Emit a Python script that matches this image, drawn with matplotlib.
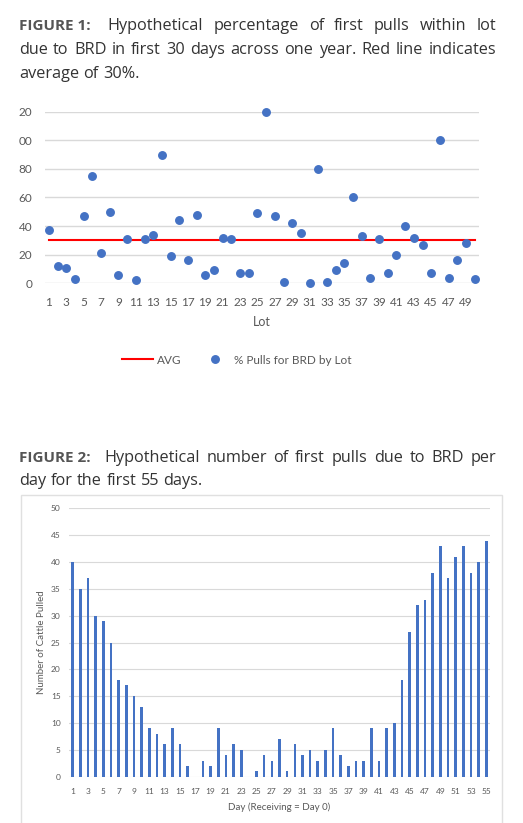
import matplotlib
matplotlib.use("Agg")
import matplotlib.pyplot as plt
from matplotlib.lines import Line2D
from matplotlib.patches import Rectangle

# Figure 1 data: % of first pulls due to BRD per lot
lots = list(range(1, 51))
pct_pulls = [37, 12, 11, 3, 47, 75, 21, 50, 6, 31,
             2, 31, 34, 90, 19, 44, 16, 48, 6, 9,
             32, 31, 7, 7, 49, 120, 47, 1, 42, 35,
             0, 80, 1, 9, 14, 60, 33, 4, 31, 7,
             20, 40, 32, 27, 7, 100, 4, 16, 28, 3]
avg_pct = 30
# tick labels as they show in the (clipped) original
pct_ticks = [0, 20, 40, 60, 80, 100, 120]
pct_tick_labels = ["0", "20", "40", "60", "80", "00", "20"]

# Figure 2 data: first pulls per day
days = list(range(1, 56))
cattle_pulled = [40, 35, 37, 30, 29, 25, 18, 17, 15, 13,
                 9, 8, 6, 9, 6, 2, 0, 3, 2, 9,
                 4, 6, 5, 0, 1, 4, 3, 7, 1, 6,
                 4, 5, 3, 5, 9, 4, 2, 3, 3, 9,
                 3, 9, 10, 18, 27, 32, 33, 38, 43, 37,
                 41, 43, 38, 40, 44]

W, H = 523, 823
BLUE = "#4472C4"
GRID = "#D9D9D9"
TICK = "#595959"
CAP_FONT = "Open Sans"
CHART_FONT = "Lato"

fig = plt.figure(figsize=(W / 100, H / 100), dpi=100)


def px_axes(left, top, right, bottom):
    return fig.add_axes([left / W, 1 - bottom / H, (right - left) / W, (bottom - top) / H])


def caption_line(tokens, baseline, x0, x1=None):
    # tokens: list of (word, bold); justified between x0 and x1 when x1 is given
    r = fig.canvas.get_renderer()
    texts = []
    for word, bold in tokens:
        t = fig.text(0, 1 - baseline / H, word, family=CAP_FONT,
                     fontsize=11 if bold else 11.7,
                     fontweight="bold" if bold else "normal",
                     color="#555555" if bold else "#333333", va="baseline")
        texts.append(t)
    widths = [t.get_window_extent(r).width for t in texts]
    # the bold label is followed by a double space
    extra = [7 if bold else 0 for _, bold in tokens]
    if x1 is None:
        gap = 4.5
    else:
        gap = (x1 - x0 - sum(widths) - sum(extra[:-1])) / (len(texts) - 1)
    x = x0
    for t, w, e in zip(texts, widths, extra):
        t.set_x(x / W)
        x += w + gap + e


def words(s):
    return [(w, False) for w in s.split()]


# ---- captions ----
caption_line([("FIGURE 1:", True)] + words("Hypothetical percentage of first pulls within lot"), 30, 19, 496)
caption_line(words("due to BRD in first 30 days across one year. Red line indicates"), 54, 19, 496)
caption_line(words("average of 30%."), 77.5, 19)

caption_line([("FIGURE 2:", True)] + words("Hypothetical number of first pulls due to BRD per"), 461.5, 19, 496)
caption_line(words("day for the first 55 days."), 485, 19)

# ---- figure 1: scatter ----
ax1 = px_axes(44.6, 111.7, 479, 283.3)
ax1.plot(lots, pct_pulls, "o", color=BLUE, markersize=5.4, clip_on=False, zorder=3)
ax1.axhline(avg_pct, xmin=0.5 / 50, xmax=49.5 / 50, color="#FF0000", lw=1.5, zorder=2)
ax1.set_xlim(0.5, 50.5)
ax1.set_ylim(0, 120)
ax1.set_yticks(pct_ticks)
ax1.set_yticklabels(pct_tick_labels)
ax1.set_xticks(lots[::2])
ax1.grid(axis="y", color=GRID, lw=1)
ax1.set_axisbelow(True)
for s in ax1.spines.values():
    s.set_visible(False)
ax1.tick_params(length=0, labelsize=8.5, labelcolor=TICK)
ax1.tick_params(axis="y", pad=9)
ax1.tick_params(axis="x", pad=10)
for lab in ax1.get_xticklabels() + ax1.get_yticklabels():
    lab.set_family(CHART_FONT)
ax1.set_xlabel("Lot", family=CHART_FONT, fontsize=9, color=TICK, va="center")
ax1.xaxis.set_label_coords(0.5, (283.3 - 322) / (283.3 - 111.7))

handles = [Line2D([], [], color="#FF0000", lw=1.5),
           Line2D([], [], ls="none", marker="o", color=BLUE, markersize=5.4)]
fig.legend(handles, ["AVG", "% Pulls for BRD by Lot"], loc="center",
           bbox_to_anchor=(237 / W, 1 - 360 / H), ncol=2, frameon=False,
           prop={"family": CHART_FONT, "size": 8.5}, labelcolor=TICK,
           handlelength=2.6, handletextpad=0.3, columnspacing=1.6)

# ---- figure 2: bars ----
fig.add_artist(Rectangle((21 / W, -0.02), (502 - 21) / W, 1 - 495 / H + 0.02,
                         transform=fig.transFigure, fill=False, edgecolor="#E0E0E0", lw=1))
ax2 = px_axes(68.9, 508.3, 490.1, 776.7)
ax2.bar(days, cattle_pulled, width=0.34, color=BLUE, zorder=3)
ax2.set_xlim(0.5, 55.5)
ax2.set_ylim(0, 50)
ax2.set_yticks(range(0, 51, 5))
ax2.set_xticks(days[::2])
ax2.grid(axis="y", color=GRID, lw=0.8)
ax2.set_axisbelow(True)
for s in ax2.spines.values():
    s.set_visible(False)
ax2.tick_params(length=0, labelsize=6, labelcolor=TICK)
ax2.tick_params(axis="y", pad=6)
ax2.tick_params(axis="x", pad=8)
for lab in ax2.get_xticklabels() + ax2.get_yticklabels():
    lab.set_family(CHART_FONT)
ax2.set_xlabel("Day (Receiving = Day 0)", family=CHART_FONT, fontsize=7, color=TICK, va="center")
ax2.xaxis.set_label_coords(0.5, (776.7 - 807) / (776.7 - 508.3))
ax2.set_ylabel("Number of Cattle Pulled", family=CHART_FONT, fontsize=7, color=TICK, va="center")
ax2.yaxis.set_label_coords((41 - 68.9) / (490.1 - 68.9), 0.5)

fig.savefig("out.png", dpi=100)
